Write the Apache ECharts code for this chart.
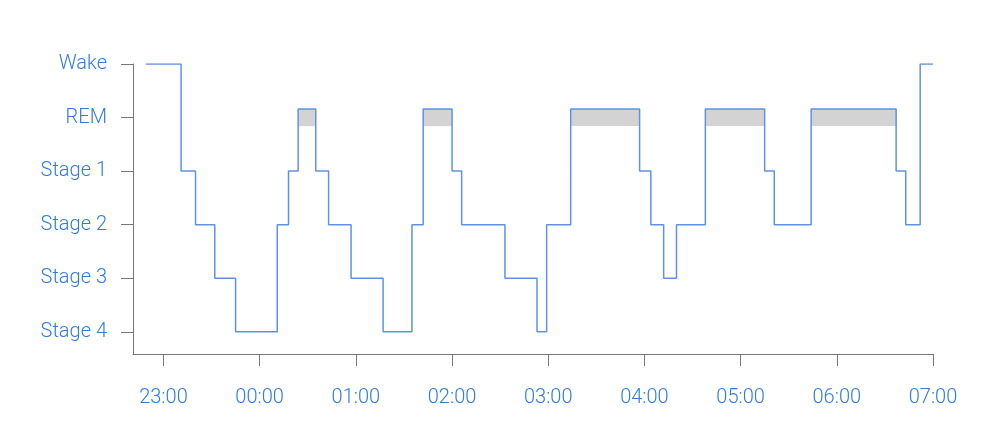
<!DOCTYPE html>
<html>
<head>
<meta charset="utf-8">
<script src="https://cdn.jsdelivr.net/npm/echarts@6/dist/echarts.min.js"></script>
<style>
  html, body { margin: 0; padding: 0; background: #fff; }
  #main { width: 1000px; height: 432px; }
</style>
</head>
<body>
<div id="main"></div>
<script>
// stage order, bottom to top
const stageNames = ['Stage 4', 'Stage 3', 'Stage 2', 'Stage 1', 'REM', 'Wake'];
// start of each epoch and the stage held until the next one
const startTimes = ['22:49', '23:11', '23:20', '23:32', '23:45', '00:11', '00:18', '00:24', '00:35', '00:43',
  '00:57', '01:17', '01:35', '01:42', '02:00', '02:06', '02:33', '02:53', '02:59', '03:14',
  '03:57', '04:04', '04:12', '04:20', '04:38', '05:15', '05:21', '05:44', '06:37', '06:43', '06:52'];
const stages = ['Wake', 'Stage 1', 'Stage 2', 'Stage 3', 'Stage 4', 'Stage 2', 'Stage 1', 'REM', 'Stage 1', 'Stage 2',
  'Stage 3', 'Stage 4', 'Stage 2', 'REM', 'Stage 1', 'Stage 2', 'Stage 3', 'Stage 4', 'Stage 2', 'REM',
  'Stage 1', 'Stage 2', 'Stage 3', 'Stage 2', 'REM', 'Stage 1', 'Stage 2', 'REM', 'Stage 1', 'Stage 2', 'Wake'];
const endTime = '07:00';
const hourTicks = ['23:00', '00:00', '01:00', '02:00', '03:00', '04:00', '05:00', '06:00', '07:00'];

const lineColor = '#5e92e6';
const textColor = '#2f7be0';
const axisColor = '#777';
const remHalf = 0.16; // REM drawn as a thin band, line sits on its top

// clock string -> hours on a continuous night scale (after midnight +24)
function toHours(s) {
  const p = s.split(':');
  let h = +p[0] + p[1] / 60;
  if (h < 12) h += 24;
  return h;
}
function level(st) {
  const i = stageNames.indexOf(st);
  return st === 'REM' ? i + remHalf : i;
}

const lineData = startTimes.map((t, i) => [toHours(t), level(stages[i])]);
lineData.push([toHours(endTime), level(stages[stages.length - 1])]);

const remBands = [];
stages.forEach((st, i) => {
  if (st === 'REM') {
    const end = i + 1 < startTimes.length ? startTimes[i + 1] : endTime;
    remBands.push([toHours(startTimes[i]), toHours(end)]);
  }
});

const tickVals = hourTicks.map(toHours);

var myChart = echarts.init(document.getElementById('main'));
myChart.setOption({
  animation: false,
  grid: { left: 133, right: 67, top: 64, bottom: 78 },
  xAxis: {
    type: 'value',
    min: 22 + 41 / 60,
    max: 31,
    splitLine: { show: false },
    axisLine: { show: true, onZero: false, lineStyle: { color: axisColor, width: 1 } },
    axisTick: { show: true, length: 12, customValues: tickVals, lineStyle: { color: axisColor } },
    axisLabel: {
      customValues: tickVals,
      margin: 34,
      color: textColor,
      fontFamily: 'Roboto',
      fontWeight: 300,
      fontSize: 20,
      formatter: v => hourTicks[tickVals.indexOf(v)] || ''
    }
  },
  yAxis: {
    type: 'value',
    min: -0.415,
    max: 5,
    splitLine: { show: false },
    axisLine: { show: true, onZero: false, lineStyle: { color: axisColor, width: 1 } },
    axisTick: { show: true, length: 12, customValues: [0, 1, 2, 3, 4, 5], lineStyle: { color: axisColor } },
    axisLabel: {
      customValues: [0, 1, 2, 3, 4, 5],
      margin: 26,
      color: textColor,
      fontFamily: 'Roboto',
      fontWeight: 300,
      fontSize: 20,
      formatter: v => stageNames[v]
    }
  },
  series: [
    {
      type: 'custom',
      z: 1,
      data: remBands,
      renderItem: function (params, api) {
        const p0 = api.coord([api.value(0), 4 + remHalf]);
        const p1 = api.coord([api.value(1), 4 - remHalf]);
        return {
          type: 'rect',
          shape: { x: p0[0], y: p0[1], width: p1[0] - p0[0], height: p1[1] - p0[1] },
          style: { fill: '#d3d3d3' }
        };
      }
    },
    {
      type: 'line',
      z: 2,
      step: 'end',
      data: lineData,
      symbol: 'none',
      lineStyle: { color: lineColor, width: 1.5 }
    }
  ]
});
</script>
</body>
</html>
